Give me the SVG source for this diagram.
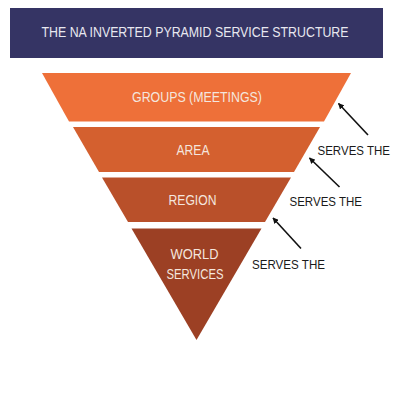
<svg xmlns="http://www.w3.org/2000/svg" width="400" height="400" viewBox="0 0 400 400">
<defs>
<style>
.lbl{font-family:"Liberation Sans",Arial,sans-serif;font-size:14px;fill:#F4E6DE;text-anchor:middle}
.srv{font-family:"Liberation Sans",Arial,sans-serif;font-size:12.8px;fill:#1a1a1a}
.arr{stroke:#111;stroke-width:1.6;fill:none;marker-end:url(#ah)}
</style>
<marker id="ah" viewBox="0 0 10 10" refX="9" refY="5" markerWidth="6" markerHeight="6" orient="auto" markerUnits="userSpaceOnUse">
<path d="M0,0 L10,5 L0,10 z" fill="#111"/>
</marker>
</defs>
<rect width="400" height="400" fill="#fff"/>
<g id="title">
<rect x="10" y="8" width="373" height="50" fill="#353464"/>
<text x="195" y="37" font-family="'Liberation Sans',Arial,sans-serif" font-size="14" fill="#E8E8F0" text-anchor="middle" textLength="307" lengthAdjust="spacingAndGlyphs">THE NA INVERTED PYRAMID SERVICE STRUCTURE</text>
</g>
<g id="groups">
<polygon points="42,73 351,73 324,121.5 69,121.5" fill="#EE7039"/>
<text class="lbl" x="197" y="102" textLength="130" lengthAdjust="spacingAndGlyphs">GROUPS (MEETINGS)</text>
</g>
<g id="area">
<polygon points="73,127 320,127 294,172 99,172" fill="#D4602F"/>
<text class="lbl" x="193" y="154.5" textLength="33" lengthAdjust="spacingAndGlyphs">AREA</text>
</g>
<g id="region">
<polygon points="102,177.5 291,177.5 265,222 128,222" fill="#B9502A"/>
<text class="lbl" x="192.5" y="205" textLength="48" lengthAdjust="spacingAndGlyphs">REGION</text>
</g>
<g id="world">
<polygon points="131.5,228.5 261.5,228.5 196.5,340" fill="#9C4024"/>
<text class="lbl" x="194.5" y="258.5" textLength="48" lengthAdjust="spacingAndGlyphs">WORLD</text>
<text class="lbl" x="195" y="279" textLength="57" lengthAdjust="spacingAndGlyphs">SERVICES</text>
</g>
<g id="connectors">
<line class="arr" x1="368" y1="135" x2="338.5" y2="103.5"/>
<line class="arr" x1="339.5" y1="187" x2="309.5" y2="158"/>
<line class="arr" x1="301" y1="248.5" x2="273" y2="218"/>
</g>
<g id="labels">
<text class="srv" x="317.5" y="154.5" textLength="72.5" lengthAdjust="spacingAndGlyphs">SERVES THE</text>
<text class="srv" x="289.5" y="205.5" textLength="72.5" lengthAdjust="spacingAndGlyphs">SERVES THE</text>
<text class="srv" x="252" y="268.5" textLength="73" lengthAdjust="spacingAndGlyphs">SERVES THE</text>
</g>
</svg>
